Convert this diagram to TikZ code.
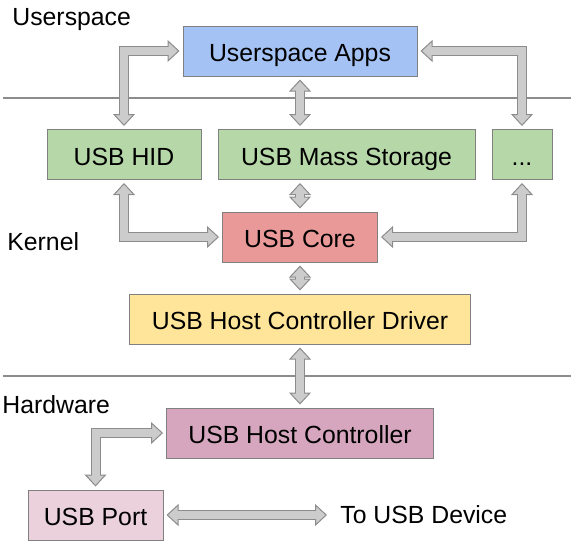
\documentclass[tikz,border=0pt]{standalone}
\usepackage{fontspec}
\setmainfont{Liberation Sans}
\usetikzlibrary{arrows.meta}

\definecolor{appsblue}{HTML}{A4C2F4}
\definecolor{drivergreen}{HTML}{B6D7A8}
\definecolor{corered}{HTML}{EA9999}
\definecolor{hcdyellow}{HTML}{FFE599}
\definecolor{hcpink}{HTML}{D5A6BD}
\definecolor{portpink}{HTML}{EAD1DC}
\definecolor{pipefill}{HTML}{CCCCCC}
\definecolor{pipeline}{HTML}{8C8C8C}
\definecolor{boxline}{HTML}{808080}
\definecolor{layerline}{HTML}{8C8C8C}

\tikzset{
  usbbox/.style={draw=boxline, line width=0.5pt, inner sep=0pt, text height=11.8pt, text depth=1.2pt, minimum height=25pt},
  layertext/.style={anchor=base west, inner sep=0pt},
  pipeout/.style={draw=pipeline, line width=5pt, line join=miter, shorten <=1.5pt, shorten >=1.5pt,
    {Triangle[length=6pt,width=11pt,fill=pipefill,line width=0.5pt]}-{Triangle[length=6pt,width=11pt,fill=pipefill,line width=0.5pt]}},
  pipein/.style={draw=pipefill, line width=4pt, line join=miter, shorten <=6.5pt, shorten >=6.5pt}
}
\newcommand{\usbpipe}[1]{\draw[pipeout] #1; \draw[pipein] #1;}

\begin{document}
\begin{tikzpicture}[x=0.5pt,y=-0.5pt,font=\fontsize{12.4}{14}\selectfont]
\useasboundingbox (0,0) rectangle (571,548);

\draw[color=layerline, line width=0.7pt] (3,98) -- (571,98);
\draw[color=layerline, line width=0.7pt] (3,376) -- (571,376);

\node[layertext] (userspace) at (12,25) {Userspace};
\node[layertext] (kernel) at (7,250) {Kernel};
\node[layertext] (hardware) at (2,413) {Hardware};

\node[usbbox, fill=appsblue, minimum width=117pt] (apps) at (300,51) {Userspace Apps};
\node[usbbox, fill=drivergreen, minimum width=77pt] (hid) at (124,154.5) {USB HID};
\node[usbbox, fill=drivergreen, minimum width=128.5pt] (mass) at (346.5,154.5) {USB Mass Storage};
\node[usbbox, fill=drivergreen, minimum width=30pt] (dots) at (522,154.5) {...};
\node[usbbox, fill=corered, minimum width=77.5pt] (core) at (300,237) {USB Core};
\node[usbbox, fill=hcdyellow, minimum width=170.5pt] (hcd) at (300,319) {USB Host Controller Driver};
\node[usbbox, fill=hcpink, minimum width=133.5pt] (hc) at (300,433) {USB Host Controller};
\node[usbbox, fill=portpink, minimum width=67.5pt] (port) at (95.5,515) {USB Port};
\node[anchor=base west, inner xsep=5pt, inner ysep=0pt] (device) at (330,523) {To USB Device};

\usbpipe{(hid.north) |- (apps.west)}
\usbpipe{(apps.south) -- (apps.south |- mass.north)}
\usbpipe{(apps.east) -| (dots.north)}
\usbpipe{(hid.south) |- (core.west)}
\usbpipe{(core.north |- mass.south) -- (core.north)}
\usbpipe{(dots.south) |- (core.east)}
\usbpipe{(core.south) -- (hcd.north)}
\usbpipe{(hcd.south) -- (hc.north)}
\usbpipe{(hc.west) -| (port.north)}
\usbpipe{(port.east) -- (port.east -| device.west)}

\end{tikzpicture}
\end{document}
